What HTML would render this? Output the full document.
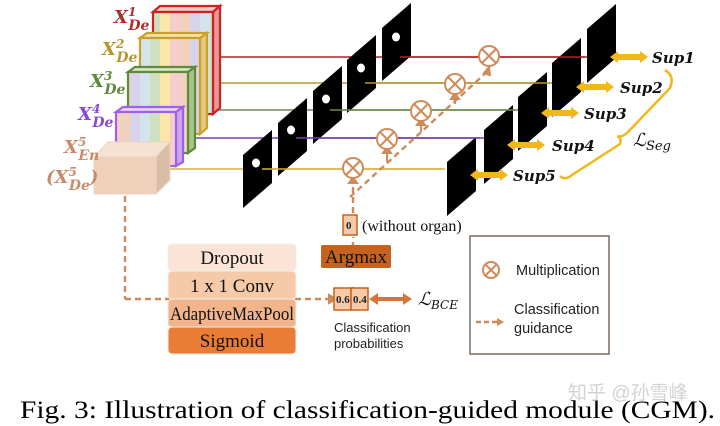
<!DOCTYPE html>
<html><head><meta charset="utf-8"><style>
html,body{margin:0;padding:0;background:#fff;width:720px;height:426px;overflow:hidden}
svg{display:block}
.it{font-family:"DejaVu Serif","Liberation Serif",serif;font-style:italic}
.sf{font-family:"Liberation Serif",serif}
</style></head><body>
<svg width="720" height="426" viewBox="0 0 720 426" xmlns="http://www.w3.org/2000/svg">
<defs>
<pattern id="st" x="0" y="0" width="60" height="10" patternUnits="userSpaceOnUse">
<rect x="0" y="0" width="10" height="10" fill="#f0d2bc"/>
<rect x="10" y="0" width="10" height="10" fill="#d8d2ea"/>
<rect x="20" y="0" width="10" height="10" fill="#d4e4ee"/>
<rect x="30" y="0" width="10" height="10" fill="#cfe0c0"/>
<rect x="40" y="0" width="10" height="10" fill="#fbe8a8"/>
<rect x="50" y="0" width="10" height="10" fill="#f6cccc"/>
</pattern>
</defs>

<g stroke-width="1.6" fill="none">
<line x1="216" y1="57" x2="595" y2="57" stroke="#b22222"/>
<line x1="204" y1="83" x2="565" y2="83" stroke="#b8962e"/>
<line x1="192" y1="110" x2="530" y2="110" stroke="#6e8b50"/>
<line x1="180" y1="138" x2="495" y2="138" stroke="#7a3fb0"/>
<line x1="165" y1="169" x2="445" y2="169" stroke="#d9b040"/>
</g>

<g stroke-width="2.2">
<polygon points="153,12 160,6 220,6 213,12" fill="#f3c9c9" stroke="#cc2222"/>
<polygon points="213,12 220,6 220,108 213,114" fill="#e59a9a" stroke="#cc2222"/>
<rect x="153" y="12" width="60" height="102" fill="url(#st)" stroke="#cc2222"/>
<polygon points="140,38 147,33 207,33 200,38" fill="#f6e4b0" stroke="#c9a02a"/>
<polygon points="200,38 207,33 207,128 200,134" fill="#e8c980" stroke="#c9a02a"/>
<rect x="140" y="38" width="60" height="96" fill="url(#st)" stroke="#c9a02a"/>
<polygon points="128,72 135,67 195,67 188,72" fill="#d8e6c8" stroke="#5e8a3a"/>
<polygon points="188,72 195,67 195,148 188,153" fill="#a9c48a" stroke="#5e8a3a"/>
<rect x="128" y="72" width="60" height="81" fill="url(#st)" stroke="#5e8a3a"/>
<polygon points="116,112 123,107 183,107 176,112" fill="#e6d6f6" stroke="#a060e8"/>
<polygon points="176,112 183,107 183,162 176,166" fill="#c9a8ee" stroke="#a060e8"/>
<rect x="116" y="112" width="60" height="54" fill="url(#st)" stroke="#a060e8"/>
</g>
<g stroke="#e8d4c4" stroke-width="1">
<polygon points="94,157 108,142 170,142 156,157" fill="#f6e2d2"/>
<polygon points="156,157 170,142 170,180 156,194" fill="#d9bda6"/>
<rect x="94" y="157" width="62" height="37" fill="#efd0ba"/>
</g>

<g class="it" font-size="18" font-weight="bold">
<text x="114" y="23" fill="#b22a2a">X<tspan font-size="12" dy="-7">1</tspan><tspan font-size="14" dx="-8" dy="14">De</tspan></text>
<text x="102" y="55" fill="#b8962e">X<tspan font-size="12" dy="-7">2</tspan><tspan font-size="14" dx="-8" dy="14">De</tspan></text>
<text x="90" y="87" fill="#5e8a3a">X<tspan font-size="12" dy="-7">3</tspan><tspan font-size="14" dx="-8" dy="14">De</tspan></text>
<text x="78" y="120" fill="#8a48d8">X<tspan font-size="12" dy="-7">4</tspan><tspan font-size="14" dx="-8" dy="14">De</tspan></text>
<text x="64" y="153" fill="#c88a6a">X<tspan font-size="12" dy="-7">5</tspan><tspan font-size="14" dx="-8" dy="14">En</tspan></text>
<text x="46" y="183" fill="#c88a6a">(X<tspan font-size="12" dy="-7">5</tspan><tspan font-size="14" dx="-8" dy="14">De</tspan><tspan dy="-7">)</tspan></text>
</g>

<g fill="#000">
<polygon points="243,155 272,130 272,183 243,208"/>
<polygon points="278,123 307,98 307,151 278,176"/>
<polygon points="313,91 342,66 342,119 313,144"/>
<polygon points="347,60 376,35 376,88 347,113"/>
<polygon points="382,28 411,3 411,56 382,81"/>
<polygon points="447,162 476,137 476,191 447,216"/>
<polygon points="484,130 513,105 513,159 484,184"/>
<polygon points="518,97 547,72 547,126 518,151"/>
<polygon points="552,63 581,38 581,92 552,117"/>
<polygon points="587,29 616,4 616,58 587,83"/>
</g>
<g fill="#fff">
<ellipse cx="256" cy="163" rx="4" ry="4.5"/>
<ellipse cx="291" cy="130" rx="4" ry="4.5"/>
<ellipse cx="326" cy="99" rx="4" ry="4.5"/>
<ellipse cx="361" cy="68" rx="4" ry="4.5"/>
<ellipse cx="396" cy="37" rx="4" ry="4.5"/>
</g>
<g stroke-width="1.6">
<line x1="262" y1="169" x2="343" y2="169" stroke="#d9b040"/>
<line x1="296" y1="138" x2="377" y2="138" stroke="#7a3fb0"/>
<line x1="330" y1="110" x2="411" y2="110" stroke="#6e8b50"/>
<line x1="365" y1="83" x2="445" y2="83" stroke="#b8962e"/>
<line x1="400" y1="57" x2="479" y2="57" stroke="#b22222"/>
<line x1="363" y1="169" x2="442" y2="169" stroke="#d9b040"/>
<line x1="397" y1="138" x2="480" y2="138" stroke="#7a3fb0"/>
<line x1="431" y1="110" x2="515" y2="110" stroke="#6e8b50"/>
<line x1="465" y1="83" x2="550" y2="83" stroke="#b8962e"/>
<line x1="499" y1="57" x2="585" y2="57" stroke="#b22222"/>
</g>

<g stroke="#d08a5a" stroke-width="2.4" fill="none" stroke-dasharray="6,4">
<line x1="125" y1="196" x2="125" y2="299"/>
<line x1="125" y1="299" x2="330" y2="299"/>
<line x1="353" y1="213" x2="353" y2="181"/>
<line x1="353" y1="298" x2="353" y2="287"/>
<line x1="353" y1="268" x2="353" y2="237"/>
<line x1="350" y1="197" x2="488" y2="71"/>
</g>
<g stroke="#d08a5a" stroke-width="2" fill="#d08a5a">
<line x1="387" y1="162" x2="387" y2="151"/><polygon points="383,153 387,147 391,153"/>
<line x1="421" y1="132" x2="421" y2="123"/><polygon points="417,125 421,119 425,125"/>
<line x1="455" y1="104" x2="455" y2="97"/><polygon points="451,99 455,93 459,99"/>
<polygon points="349,183 353,177 357,183"/>
<polygon points="484,73 489,67 490,75"/>
<polygon points="329,295 336,299 329,303"/>
</g>

<g stroke="#d08a5a" stroke-width="2" fill="#fff">
<g transform="translate(489,56)"><circle r="10"/><path d="M-7,-7 L7,7 M7,-7 L-7,7"/></g>
<g transform="translate(455,84)"><circle r="10"/><path d="M-7,-7 L7,7 M7,-7 L-7,7"/></g>
<g transform="translate(421,111)"><circle r="10"/><path d="M-7,-7 L7,7 M7,-7 L-7,7"/></g>
<g transform="translate(387,139)"><circle r="10"/><path d="M-7,-7 L7,7 M7,-7 L-7,7"/></g>
<g transform="translate(353,168)"><circle r="10"/><path d="M-7,-7 L7,7 M7,-7 L-7,7"/></g>
</g>

<g fill="#f2b81a">
<g transform="translate(610,57)"><polygon points="0,0 8,-6 8,-3 30,-3 30,-6 38,0 30,6 30,3 8,3 8,6"/></g>
<g transform="translate(576,87)"><polygon points="0,0 8,-6 8,-3 30,-3 30,-6 38,0 30,6 30,3 8,3 8,6"/></g>
<g transform="translate(541,113)"><polygon points="0,0 8,-6 8,-3 30,-3 30,-6 38,0 30,6 30,3 8,3 8,6"/></g>
<g transform="translate(507,145)"><polygon points="0,0 8,-6 8,-3 30,-3 30,-6 38,0 30,6 30,3 8,3 8,6"/></g>
<g transform="translate(470,175)"><polygon points="0,0 8,-6 8,-3 30,-3 30,-6 38,0 30,6 30,3 8,3 8,6"/></g>
</g>
<g class="it" font-size="15" font-weight="bold" fill="#111">
<text x="652" y="63">Sup1</text>
<text x="620" y="93">Sup2</text>
<text x="584" y="119">Sup3</text>
<text x="552" y="151">Sup4</text>
<text x="513" y="181">Sup5</text>
<text x="633" y="146" font-size="18" font-weight="normal">ℒ<tspan font-size="13" dy="4">Seg</tspan></text>
</g>
<path d="M665,70 Q675,76 670,88 L628,132 Q622,138 617,136 Q622,138 620,144 L572,175 Q565,181 560,176" stroke="#f2b81a" stroke-width="2.5" fill="none"/>

<g font-family="Liberation Serif, serif" font-size="19" text-anchor="middle" fill="#111">
<rect x="168" y="244" width="128" height="27" rx="4" fill="#fbe4d6" stroke="#eee"/>
<text x="232" y="264">Dropout</text>
<rect x="168" y="271" width="128" height="28" rx="4" fill="#f6c9a8" stroke="#eee"/>
<text x="232" y="292">1 x 1 Conv</text>
<rect x="168" y="299" width="128" height="28" rx="4" fill="#f2b48a" stroke="#eee"/>
<text x="232" y="320" textLength="124" lengthAdjust="spacingAndGlyphs">AdaptiveMaxPool</text>
<rect x="168" y="327" width="128" height="27" rx="4" fill="#ea7d36" stroke="#eee"/>
<text x="232" y="347">Sigmoid</text>
<rect x="321" y="245" width="70" height="23" rx="2" fill="#c5621e"/>
<text x="356" y="263">Argmax</text>
</g>
<g font-family="Liberation Serif, serif" font-weight="bold" font-size="11" fill="#222">
<rect x="343" y="215" width="14" height="20" fill="#f6c9a8" stroke="#c5621e" stroke-width="1.5"/>
<text x="346" y="229">0</text>
<rect x="334" y="288" width="17" height="22" fill="#f6c9a8" stroke="#c5621e" stroke-width="1.5"/>
<rect x="351" y="288" width="17" height="22" fill="#f6c9a8" stroke="#c5621e" stroke-width="1.5"/>
<text x="336" y="303">0.6</text><text x="353" y="303">0.4</text>
</g>
<text x="362" y="231" font-family="Liberation Serif, serif" font-size="16" fill="#111">(without organ)</text>
<g transform="translate(369,299)" fill="#d8743a"><polygon points="0,0 9,-6 9,-2 34,-2 34,-6 43,0 34,6 34,2 9,2 9,6"/></g>
<text x="418" y="305" class="it" font-size="18" fill="#111">ℒ<tspan font-size="12" dy="4">BCE</tspan></text>
<g font-family="Liberation Sans, sans-serif" font-size="13" fill="#222">
<text x="334" y="332">Classification</text>
<text x="334" y="348">probabilities</text>
</g>

<rect x="470" y="236" width="139" height="118" fill="#fff" stroke="#7a6a60" stroke-width="1.5"/>
<g transform="translate(491,270)" stroke="#d08a5a" stroke-width="2" fill="none"><circle r="8"/><path d="M-5.5,-5.5 L5.5,5.5 M5.5,-5.5 L-5.5,5.5"/></g>
<g font-family="Liberation Sans, sans-serif" font-size="14.5" fill="#222">
<text x="516" y="275">Multiplication</text>
<text x="514" y="314">Classification</text>
<text x="514" y="333">guidance</text>
</g>
<line x1="476" y1="322" x2="497" y2="322" stroke="#d08a5a" stroke-width="2.4" stroke-dasharray="5,3"/>
<polygon points="497,318 504,322 497,326" fill="#d08a5a"/>

<text x="20" y="418" class="sf" font-size="25.5" fill="#000" textLength="695" lengthAdjust="spacingAndGlyphs">Fig. 3: Illustration of classification-guided module (CGM).</text>
<text x="568" y="399" font-family="Liberation Sans, 'Noto Sans CJK SC', sans-serif" font-size="19" fill="#c8c8c8" opacity="0.8">知乎 @孙雪峰</text>
</svg>
</body></html>
